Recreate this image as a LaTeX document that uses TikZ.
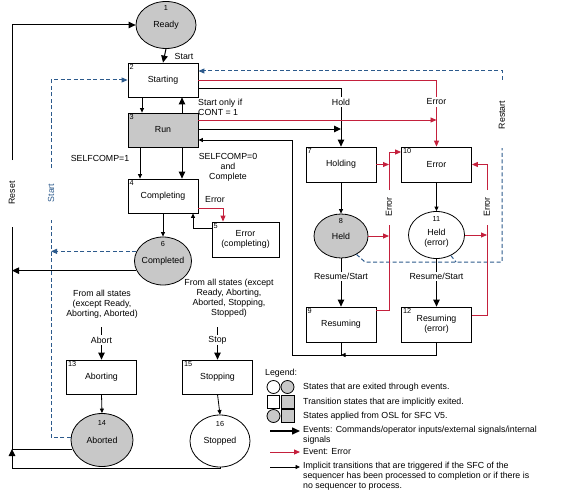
\documentclass[tikz,border=0pt]{standalone}
\usepackage{fontspec}
\setmainfont{Liberation Sans}
\usetikzlibrary{shapes.geometric,arrows.meta}
\definecolor{stategray}{RGB}{200,200,200}
\definecolor{errred}{RGB}{196,32,60}
\definecolor{dashblue}{RGB}{44,90,140}
\newcommand{\lblfont}{\fontsize{8.8}{10}\selectfont}
\newcommand{\numfont}{\fontsize{7.3}{8}\selectfont}
\begin{document}
\begin{tikzpicture}[x=1pt,y=-1pt,
  box/.style={draw, line width=0.8pt, minimum width=70pt, minimum height=34pt, inner sep=1pt, align=center, font=\lblfont},
  stateE/.style={ellipse, draw, line width=0.8pt, inner sep=0pt},
  etext/.style={align=center, font=\lblfont, inner sep=0pt},
  lnum/.style={font=\numfont, inner sep=1.8pt},
  enum/.style={font=\numfont, inner sep=0pt, anchor=north, yshift=-5pt},
  lbl/.style={font=\lblfont, align=center, inner sep=1pt},
  wlbl/.style={font=\lblfont, align=center, inner sep=1.5pt, fill=white},
  ln/.style={line width=0.9pt},
  ev/.style={line width=1pt, -{Triangle[length=7pt,width=6.5pt]}},
  im/.style={line width=0.8pt, -{Triangle[length=4.5pt,width=4pt]}},
  errl/.style={line width=0.9pt, draw=errred},
  err/.style={line width=0.9pt, draw=errred, -{Triangle[length=6pt,width=5pt]}, errred},
  rst/.style={line width=1pt, draw=dashblue, dash pattern=on 4pt off 2.5pt},
  rsta/.style={rst, -{Triangle[length=6pt,width=5pt]}, dashblue},
  lg/.style={font=\lblfont, inner sep=0pt, align=left}
]
\useasboundingbox (0,0) rectangle (567,492);

% ---------- states ----------
\node[stateE, fill=stategray, minimum width=60pt, minimum height=47pt] (ready) at (166,25) {};
\node[etext] (readyT) at (ready.center) {Ready};
\node[enum, yshift=1pt] (readyN) at (ready.north) {1};
\node[box, label={[lnum,anchor=north west]north west:2}] (starting) at (163,80) {Starting};
\node[box, fill=stategray, label={[lnum,anchor=north west]north west:3}] (run) at (163,130) {Run};
\node[box, label={[lnum,anchor=north west]north west:4}] (completing) at (163,196) {Completing};
\node[stateE, fill=stategray, minimum width=57pt, minimum height=48pt] (completed) at (163,261) {};
\node[etext] (completedT) at (completed.center) {Completed};
\node[enum] (completedN) at (completed.north) {6};
\node[box, minimum width=67pt, minimum height=35pt, label={[lnum,anchor=north west]north west:5}] (errc) at (245.5,239.5) {Error\\(completing)};
\node[box, minimum height=35pt, label={[lnum,anchor=north west]north west:7}] (holding) at (341,164.5) {Holding};
\node[stateE, fill=stategray, minimum width=54pt, minimum height=44pt] (held) at (341,236) {};
\node[etext] (heldT) at (held.center) {Held};
\node[enum] (heldN) at (held.north) {8};
\node[box, minimum height=35pt, label={[lnum,anchor=north west]north west:10}] (error) at (436.5,164.5) {Error};
\node[stateE, minimum width=56pt, minimum height=47pt] (herr) at (436.5,235) {};
\node[etext] (herrT) at ([yshift=-3pt]herr.center) {Held\\(error)};
\node[enum] (herrN) at (herr.north) {11};
\node[box, minimum height=35pt, label={[lnum,anchor=north west]north west:9}] (resuming) at (341,324.5) {Resuming};
\node[box, minimum height=35pt, label={[lnum,anchor=north west]north west:12}] (reserr) at (436.5,324.5) {Resuming\\(error)};
\node[box, label={[lnum,anchor=north west]north west:13}] (aborting) at (101.5,377) {Aborting};
\node[stateE, fill=stategray, minimum width=62pt, minimum height=53pt] (aborted) at (102,440) {};
\node[etext] (abortedT) at (aborted.center) {Aborted};
\node[enum, yshift=-2pt] (abortedN) at (aborted.north) {14};
\node[box, label={[lnum,anchor=north west]north west:15}] (stopping) at (217.5,377) {Stopping};
\node[stateE, minimum width=60pt, minimum height=52pt] (stopped) at (220,441) {};
\node[etext] (stoppedT) at (stopped.center) {Stopped};
\node[enum, yshift=-2pt] (stoppedN) at (stopped.north) {16};

% ---------- helper coordinates ----------
\coordinate (rBot) at (12,468);
\coordinate (rLow) at (12,227);
\coordinate (rHigh) at (12,160);
\coordinate (rTop) at (12,25);
\coordinate (sLow) at (51,220);
\coordinate (sHigh) at (51,168);
\coordinate (rsLow) at (502,148);
\coordinate (rsHigh) at (502,80);
\coordinate (rsCorner) at (502,262);
\coordinate (rsJoin) at (365,262);
\coordinate (rsJoin2) at (456,262);
\coordinate (loopBL) at (292,355);
\coordinate (eL1) at (389,225);
\coordinate (eL2) at (389,190);
\coordinate (eR1) at (487,225);
\coordinate (eR2) at (487,190);
\coordinate (abortTop) at (101.5,327);
\coordinate (stopTop) at (217.5,327);

% ---------- reset path ----------
\draw[ev] (stopped.south) |- (rBot) -- (12,449);
\draw[ln] (aborted.197) -| (rLow);
\draw[ev] (rHigh) -- (rTop) -- (ready.west);
\draw[ev] (completed.200) -- (completed.200 -| rBot);

% ---------- blue dashed ----------
\draw[rsta] (completed.160) -- (completed.160 -| sLow);
\draw[rst] (aborted.175) -| (sLow);
\draw[rsta] (sHigh) |- (starting.west);
\draw[rst] (held.-50) -- (rsJoin) -- (rsCorner) -- (rsLow);
\draw[rst] (herr.-55) -- (rsJoin2);
\draw[rsta] (rsHigh) |- (starting.east |- 0,71);

% ---------- black main transitions ----------
\draw[ev] (ready.south) -- (starting.north);
\draw[im] (starting.south -| 142,0) -- (run.north -| 142,0);
\draw[ev] (run.north -| 182,0) -- (starting.south -| 182,0);
\draw[im] (run.south -| 140,0) -- (completing.north -| 140,0);
\draw[ev] (run.south -| 182,0) -- (completing.north -| 182,0);
\draw[im] (completing.south) -- (completed.north);
\draw[im] (errc.west |- 0,228) -| (completing.south -| 193,0);
\draw[ev] (starting.east |- 0,89) -| (holding.north);
\draw[ev] (run.east |- 0,129) -- (holding.north |- 0,129);
\draw[im] (holding.south) -- (held.north);
\draw[im] (error.south) -- (herr.north);
\draw[ev] (held.south) -- (resuming.north);
\draw[ev] (herr.south) -- (reserr.north);
\draw[im] (reserr.south) |- (resuming.south |- loopBL);
\draw[im] (resuming.south) |- (loopBL) |- (run.east |- 0,140);
\draw[ev] (abortTop) -- (aborting.north);
\draw[im] (aborting.south) -- (aborted.north);
\draw[ev] (stopTop) -- (stopping.north);
\draw[im] (stopping.south) -- (stopped.north);

% ---------- red error transitions ----------
\draw[err] (starting.east |- 0,80) -| (error.north);
\draw[err] (run.east |- 0,120) -- (error.north |- 0,120);
\draw[err] (completing.east |- 0,208) -| (errc.north -| 223,0);
\draw[errl] (resuming.east |- 0,310) -| (eL1);
\draw[err] (eL2) |- (error.west |- 0,152);
\draw[err] (holding.east) -- (holding.east -| eL1);
\draw[err] (held.east) -- (held.east -| eL1);
\draw[errl] (reserr.east |- 0,315) -| (eR1);
\draw[err] (eR2) |- (error.east);
\draw[err] (herr.east) -- (herr.east -| eR1);

% ---------- labels ----------
\node[lbl, rotate=90] (resetL) at (12,193) {Reset};
\node[lbl, rotate=90, text=dashblue] (startL) at (51,193) {Start};
\node[lbl, rotate=90] (restartL) at (502,115) {Restart};
\node[lbl, rotate=90] (errL1) at (389,207) {Error};
\node[lbl, rotate=90] (errL2) at (487,207) {Error};
\node[lbl] (startLbl) at (184,56) {Start};
\node[lbl, anchor=west, align=left] (contL) at (197,107) {Start only if\\CONT = 1};
\node[wlbl] (holdL) at (341,102) {Hold};
\node[wlbl] (errTopL) at (436.5,102) {Error};
\node[lbl] (sc1) at (100,158) {SELFCOMP=1};
\node[lbl] (sc0) at (228,167) {SELFCOMP=0\\and\\Complete};
\node[lbl] (errcL) at (215,200) {Error};
\node[wlbl] (resL1) at (341,276.5) {Resume/Start};
\node[wlbl] (resL2) at (436.5,276.5) {Resume/Start};
\node[lbl] (fromL) at (102,304) {From all states\\(except Ready,\\Aborting, Aborted)};
\node[lbl] (fromM) at (229,298) {From all states (except\\Ready, Aborting,\\Aborted, Stopping,\\Stopped)};
\node[wlbl] (abortL) at (101.5,340) {Abort};
\node[wlbl] (stopL) at (217.5,340) {Stop};

% ---------- legend ----------
\node[lg, anchor=west] (legT) at (265,373) {Legend:};
\node[circle, draw, line width=0.8pt, minimum size=13pt, inner sep=0] (lc1) at (273.5,387) {};
\node[circle, draw, line width=0.8pt, fill=stategray, minimum size=13pt, inner sep=0] (lc2) at (287.5,387) {};
\node[rectangle, draw, line width=0.8pt, minimum size=12.5pt, inner sep=0] (ls1) at (273.5,402) {};
\node[rectangle, draw, line width=0.8pt, fill=stategray, minimum size=12.5pt, inner sep=0] (ls2) at (288,402) {};
\node[circle, draw, line width=0.8pt, fill=stategray, minimum size=13pt, inner sep=0] (lc3) at (273.5,416) {};
\node[rectangle, draw, line width=0.8pt, fill=stategray, minimum size=12.5pt, inner sep=0] (ls3) at (288,416) {};
\node[lg, anchor=west] (lt1) at (303,387) {States that are exited through events.};
\node[lg, anchor=west] (lt2) at (303,402) {Transition states that are implicitly exited.};
\node[lg, anchor=west] (lt3) at (303,416) {States applied from OSL for SFC V5.};
\coordinate (la1) at (270,431);
\coordinate (la2) at (300,431);
\coordinate (la3) at (270,452);
\coordinate (la4) at (300,452);
\coordinate (la5) at (270,467);
\coordinate (la6) at (300,467);
\draw[line width=1.5pt, -{Triangle[length=8pt,width=7pt]}] (la1) -- (la2);
\draw[err] (la3) -- (la4);
\draw[im] (la5) -- (la6);
\node[lg, anchor=north west] (lt4) at (303,426) {Events: Commands/operator inputs/external signals/internal\\signals};
\node[lg, anchor=west] (lt5) at (303,452) {Event: Error};
\node[lg, anchor=north west] (lt6) at (303,462) {Implicit transitions that are triggered if the SFC of the\\sequencer has been processed to completion or if there is\\no sequencer to process.};
\end{tikzpicture}
\end{document}
